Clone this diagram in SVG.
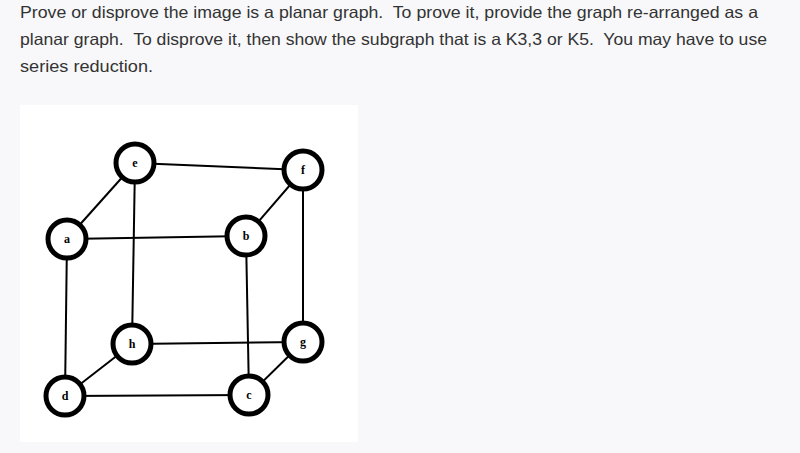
<svg xmlns="http://www.w3.org/2000/svg" width="800" height="453" viewBox="0 0 800 453">
<style>
.t{font-family:"Liberation Sans",Arial,sans-serif;font-size:16.5px;fill:#333;white-space:pre}
.n circle{fill:#fff;stroke:#000;stroke-width:5}
.n text{font-family:"Liberation Serif",serif;font-size:12px;font-weight:bold;text-anchor:middle}
#edges line{stroke:#000;stroke-width:2}
</style>
<rect width="800" height="453" fill="#f8f8fa"/>
<text class="t" x="20" y="18" textLength="738" lengthAdjust="spacingAndGlyphs" xml:space="preserve">Prove or disprove the image is a planar graph.  To prove it, provide the graph re-arranged as a</text>
<text class="t" x="20" y="45" textLength="747" lengthAdjust="spacingAndGlyphs" xml:space="preserve">planar graph.  To disprove it, then show the subgraph that is a K3,3 or K5.  You may have to use</text>
<text class="t" x="20" y="72" textLength="133" lengthAdjust="spacingAndGlyphs">series reduction.</text>
<rect x="20" y="105" width="338" height="337" fill="#fff"/>
<g id="edges">
<line x1="135" y1="163" x2="303" y2="170"/>
<line x1="135" y1="163" x2="67" y2="239"/>
<line x1="135" y1="163" x2="132" y2="344"/>
<line x1="303" y1="170" x2="246" y2="236"/>
<line x1="303" y1="170" x2="303" y2="342"/>
<line x1="67" y1="239" x2="246" y2="236"/>
<line x1="67" y1="239" x2="65" y2="396"/>
<line x1="246" y1="236" x2="249" y2="395"/>
<line x1="132" y1="344" x2="303" y2="342"/>
<line x1="132" y1="344" x2="65" y2="396"/>
<line x1="303" y1="342" x2="249" y2="395"/>
<line x1="65" y1="396" x2="249" y2="395"/>
</g>
<g id="e" class="n"><circle cx="135" cy="163" r="19"/><text x="135" y="167">e</text></g>
<g id="f" class="n"><circle cx="303" cy="170" r="19"/><text x="303" y="174">f</text></g>
<g id="a" class="n"><circle cx="67" cy="239" r="19"/><text x="67" y="243">a</text></g>
<g id="b" class="n"><circle cx="246" cy="236" r="19"/><text x="246" y="240">b</text></g>
<g id="h" class="n"><circle cx="132" cy="344" r="19"/><text x="132" y="348">h</text></g>
<g id="g" class="n"><circle cx="303" cy="342" r="19"/><text x="303" y="346">g</text></g>
<g id="d" class="n"><circle cx="65" cy="396" r="19"/><text x="65" y="400">d</text></g>
<g id="c" class="n"><circle cx="249" cy="395" r="19"/><text x="249" y="399">c</text></g>
</svg>
